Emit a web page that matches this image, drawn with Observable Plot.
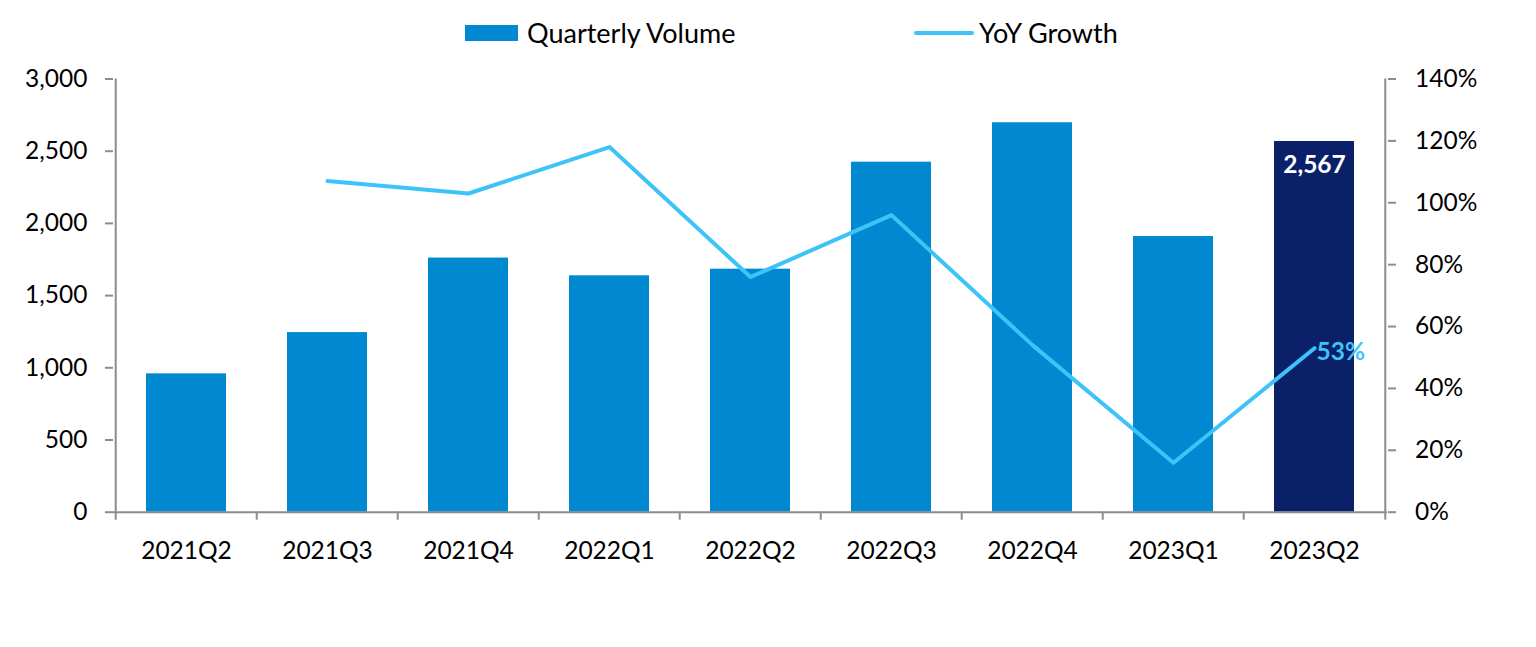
<!DOCTYPE html>
<html><head><meta charset="utf-8">
<script src="https://cdn.jsdelivr.net/npm/d3@7"></script>
<script src="https://cdn.jsdelivr.net/npm/@observablehq/plot@0.6"></script>
<style>
body{margin:0;background:#fff;font-family:Lato,sans-serif;}
#legend{position:relative;height:60px;width:1536px;font-size:27px;color:#000;}
.item{position:absolute;top:0;height:65px;display:flex;align-items:center;white-space:nowrap;}
.sw{display:inline-block;margin-right:9px;}
</style></head><body>
<div id="legend"></div>
<div id="chart"></div>
<script>
const quarters = ["2021Q2","2021Q3","2021Q4","2022Q1","2022Q2","2022Q3","2022Q4","2023Q1","2023Q2"];
const volume = [958, 1244, 1760, 1637, 1683, 2424, 2697, 1909, 2567];
const growth = [null, 107, 103, 118, 76, 96, 54, 16, 53];
const volumeTicks = [0, 500, 1000, 1500, 2000, 2500, 3000];
const growthTicks = [0, 20, 40, 60, 80, 100, 120, 140];
const volumeMax = 3000;
const growthMax = 140;
const highlight = "2023Q2";
const seriesNames = ["Quarterly Volume", "YoY Growth"];

const blue = "#0089D1", dark = "#0A2068", lineColor = "#3EC3F8", grey = "#8C8C8C";

// legend
const legend = document.getElementById("legend");
legend.innerHTML =
  `<div class="item" style="left:465px"><span class="sw" style="width:53px;height:16px;background:${blue}"></span>${seriesNames[0]}</div>` +
  `<div class="item" style="left:914px"><span class="sw" style="width:60px;height:4px;border-radius:2px;background:${lineColor};margin-right:5px"></span>${seriesNames[1]}</div>`;

const W = 1536, H = 587, mL = 113, mR = 149, mT = 18.5, mB = 135.3;
const step = (W - mL - mR) / quarters.length;
const toY = g => g * volumeMax / growthMax;
const rows = quarters.map((q, i) => ({q, v: volume[i], g: growth[i]}));
const hl = rows.filter(d => d.q === highlight);

const chart = Plot.plot({
  width: W, height: H,
  marginLeft: mL, marginRight: mR, marginTop: mT, marginBottom: mB,
  style: {fontFamily: "Lato, sans-serif", fontSize: "24.5px", color: "#000", background: "#fff"},
  x: {domain: quarters, type: "band", paddingInner: 0.43, paddingOuter: 0.215},
  y: {domain: [0, volumeMax]},
  marks: [
    Plot.barY(rows, {x: "q", y: "v", fill: d => d.q === highlight ? dark : blue}),
    Plot.ruleY([0], {stroke: grey, strokeWidth: 2}),
    Plot.ruleX([quarters[0]], {y1: 0, y2: volumeMax, dx: -step / 2, stroke: grey, strokeWidth: 2}),
    Plot.ruleX([quarters[quarters.length - 1]], {y1: 0, y2: volumeMax, dx: step / 2, stroke: grey, strokeWidth: 2}),
    Plot.ruleX(quarters, {y1: 0, y2: 0, insetBottom: -8, dx: -step / 2, stroke: grey, strokeWidth: 2}),
    Plot.ruleX([quarters[quarters.length - 1]], {y1: 0, y2: 0, insetBottom: -8, dx: step / 2, stroke: grey, strokeWidth: 2}),
    Plot.axisX({tickSize: 0, tickPadding: 29, label: null, fontSize: 24.5}),
    Plot.axisY({anchor: "left", ticks: volumeTicks, tickSize: 8, tickPadding: 18, stroke: grey, strokeWidth: 2,
      tickFormat: d3.format(","), label: null, fontSize: 24.5}),
    Plot.axisY({anchor: "right", ticks: growthTicks.map(toY), tickSize: 8, tickPadding: 19.5, stroke: grey, strokeWidth: 2,
      tickFormat: d => Math.round(d * growthMax / volumeMax) + "%", label: null, fontSize: 24.5}),
    Plot.line(rows.filter(d => d.g != null), {x: "q", y: d => toY(d.g), stroke: lineColor, strokeWidth: 4}),
    Plot.text(hl, {x: "q", y: "v", text: d => d3.format(",")(d.v), fill: "white", fontWeight: "bold", fontSize: 24.5, dy: 24}),
    Plot.text(hl, {x: "q", y: d => toY(d.g), text: d => d.g + "%", fill: lineColor, fontWeight: "bold", fontSize: 24.5,
      textAnchor: "start", dx: 2, dy: 4})
  ]
});
document.getElementById("chart").appendChild(chart);
</script>
</body></html>
